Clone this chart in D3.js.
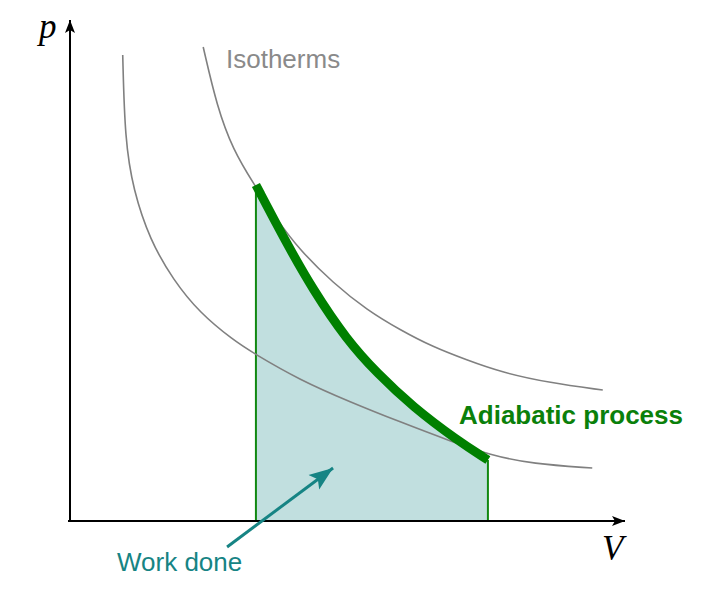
<!DOCTYPE html>
<html>
<head>
<meta charset="utf-8">
<script src="https://cdn.jsdelivr.net/npm/d3@7"></script>
<style>
  body { margin: 0; background: #fff; }
  svg { display: block; }
</style>
</head>
<body>
<div id="chart"></div>
<script>
// curves, [V, p] in arbitrary units
const outerIsotherm = [
  [2.40, 9.48], [2.65, 8.28], [2.94, 7.42], [3.30, 6.76], [3.73, 6.02],
  [4.14, 5.42], [4.74, 4.76], [5.35, 4.22], [5.95, 3.82], [6.54, 3.48],
  [7.15, 3.22], [7.75, 2.98], [8.65, 2.76], [9.60, 2.62]
];
const innerIsotherm = [
  [0.95, 9.32], [0.99, 7.62], [1.14, 6.62], [1.44, 5.62], [1.86, 4.82],
  [2.34, 4.16], [2.94, 3.62], [3.30, 3.36], [4.14, 2.82], [5.05, 2.38],
  [5.95, 1.98], [6.85, 1.60], [7.57, 1.32], [8.34, 1.14], [9.41, 1.06]
];
const adiabat = [
  [3.35, 6.72], [3.87, 5.62], [4.38, 4.62], [4.99, 3.62], [5.53, 2.96],
  [6.18, 2.28], [6.97, 1.62], [7.53, 1.22]
];
// annotation arrow for "Work done": [start, tip]
const workArrow = [[2.83, -0.52], [4.74, 1.06]];

const labels = {
  isotherms: "Isotherms",
  adiabatic: "Adiabatic process",
  work: "Work done",
  p: "p",
  V: "V"
};

const width = 720, height = 595;

const svg = d3.select("#chart")
  .append("svg")
    .attr("width", width)
    .attr("height", height);

const x = d3.scaleLinear().domain([0, 10]).range([70, 625]);
const y = d3.scaleLinear().domain([0, 10]).range([521, 21]);

const defs = svg.append("defs");
defs.append("marker")
    .attr("id", "axisHead")
    .attr("viewBox", "-14 -6 15 12")
    .attr("refX", 0).attr("refY", 0)
    .attr("markerWidth", 15).attr("markerHeight", 12)
    .attr("markerUnits", "userSpaceOnUse")
    .attr("orient", "auto")
  .append("path")
    .attr("d", "M0,0 L-13,-5 L-10,0 L-13,5 Z")
    .attr("fill", "#000");
defs.append("marker")
    .attr("id", "workHead")
    .attr("viewBox", "-24 -10 25 20")
    .attr("refX", 0).attr("refY", 0)
    .attr("markerWidth", 25).attr("markerHeight", 20)
    .attr("markerUnits", "userSpaceOnUse")
    .attr("orient", "auto")
  .append("path")
    .attr("d", "M0,0 L-24,-9 L-19,0 L-24,9 Z")
    .attr("fill", "#168484");

// B-spline evens out the small reading errors between points
const curve = d3.curveBasis;

const line = d3.line()
  .x(d => x(d[0]))
  .y(d => y(d[1]))
  .curve(curve);

const area = d3.area()
  .x(d => x(d[0]))
  .y0(y(0))
  .y1(d => y(d[1]))
  .curve(curve);

// work area under the adiabat
svg.append("path")
  .attr("d", area(adiabat))
  .attr("fill", "#c1dfdf");

// vertical edges of the area
const ends = [adiabat[0], adiabat[adiabat.length - 1]];
svg.selectAll(".edge")
  .data(ends)
  .enter()
  .append("line")
    .attr("class", "edge")
    .attr("x1", d => x(d[0])).attr("x2", d => x(d[0]))
    .attr("y1", d => y(d[1])).attr("y2", y(0))
    .attr("stroke", "#118811")
    .attr("stroke-width", 2);

// isotherms
svg.selectAll(".iso")
  .data([outerIsotherm, innerIsotherm])
  .enter()
  .append("path")
    .attr("class", "iso")
    .attr("d", line)
    .attr("fill", "none")
    .attr("stroke", "#808080")
    .attr("stroke-width", 1.6);

// adiabatic process
svg.append("path")
  .attr("d", line(adiabat))
  .attr("fill", "none")
  .attr("stroke", "#008000")
  .attr("stroke-width", 9)
  .attr("stroke-linecap", "butt");

// axes
svg.append("line")
  .attr("x1", x(0)).attr("y1", y(0))
  .attr("x2", x(0)).attr("y2", y(10) - 1)
  .attr("stroke", "#000").attr("stroke-width", 2)
  .attr("marker-end", "url(#axisHead)");
svg.append("line")
  .attr("x1", x(0) - 2).attr("y1", y(0))
  .attr("x2", x(10)).attr("y2", y(0))
  .attr("stroke", "#000").attr("stroke-width", 2)
  .attr("marker-end", "url(#axisHead)");

// work done arrow
svg.append("line")
  .attr("x1", x(workArrow[0][0])).attr("y1", y(workArrow[0][1]))
  .attr("x2", x(workArrow[1][0])).attr("y2", y(workArrow[1][1]))
  .attr("stroke", "#168484").attr("stroke-width", 3)
  .attr("marker-end", "url(#workHead)");

// labels
const sans = "'Liberation Sans', Arial, sans-serif";
const serif = "'Liberation Serif', 'Times New Roman', serif";

svg.append("text")
  .attr("x", 226).attr("y", 68)
  .attr("font-family", sans).attr("font-size", 26)
  .attr("fill", "#8a8a8a")
  .text(labels.isotherms);

svg.append("text")
  .attr("x", 459).attr("y", 424)
  .attr("font-family", sans).attr("font-size", 26)
  .attr("font-weight", "bold")
  .attr("fill", "#0a800a")
  .text(labels.adiabatic);

svg.append("text")
  .attr("x", 117).attr("y", 571)
  .attr("font-family", sans).attr("font-size", 26)
  .attr("fill", "#168484")
  .text(labels.work);

svg.append("text")
  .attr("x", 39).attr("y", 38)
  .attr("font-family", serif).attr("font-size", 35)
  .attr("font-style", "italic")
  .attr("fill", "#000")
  .text(labels.p);

svg.append("text")
  .attr("x", 602).attr("y", 560)
  .attr("font-family", serif).attr("font-size", 35)
  .attr("font-style", "italic")
  .attr("fill", "#000")
  .text(labels.V);
</script>
</body>
</html>
